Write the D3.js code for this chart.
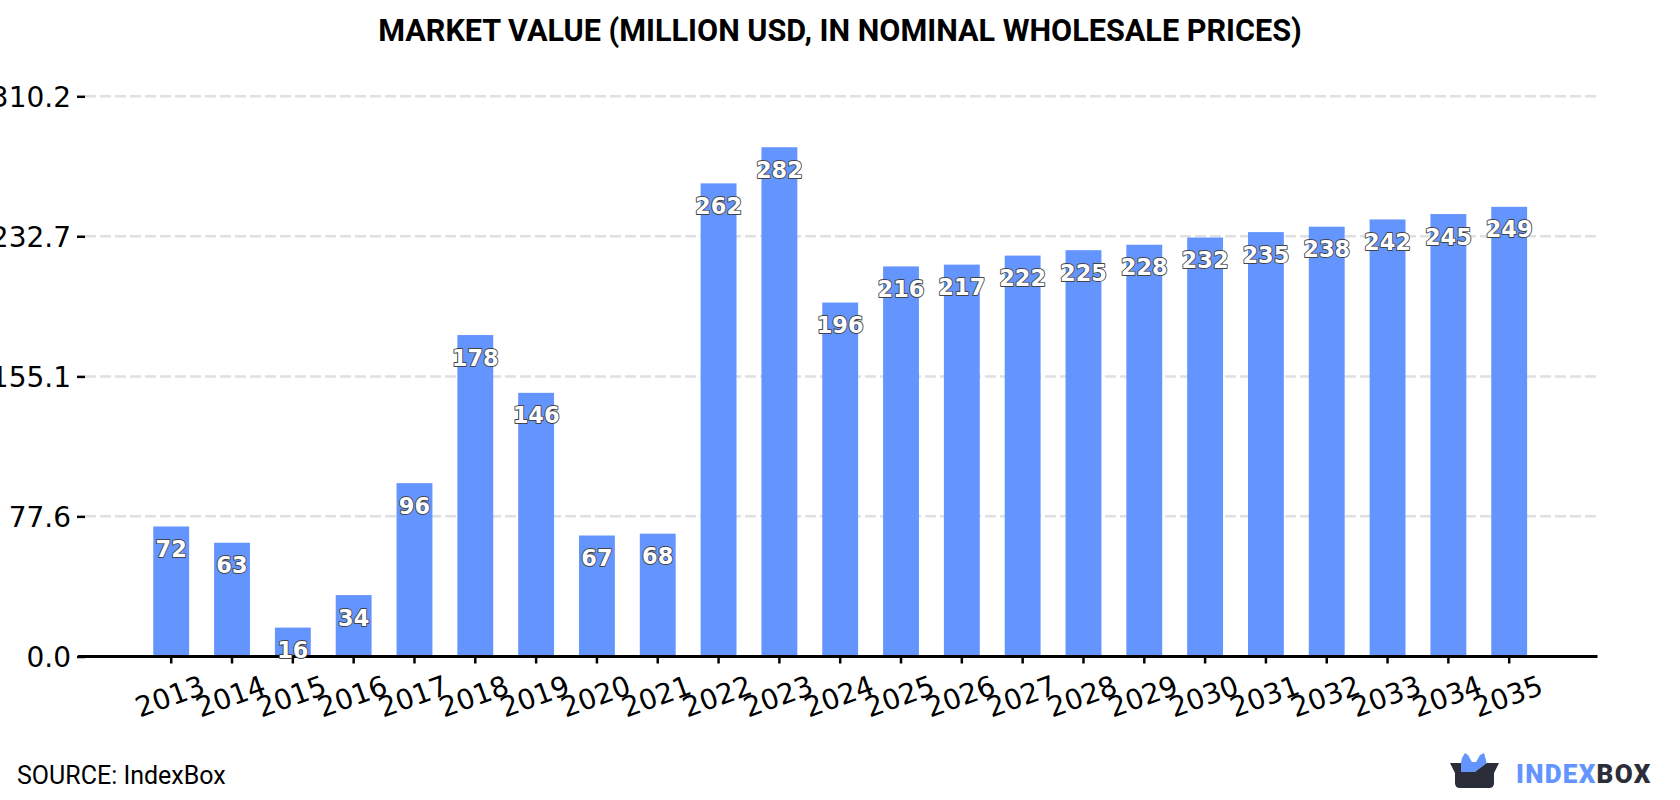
<!DOCTYPE html>
<html>
<head>
<meta charset="utf-8">
<script src="https://cdn.jsdelivr.net/npm/d3@7/dist/d3.min.js"></script>
<style>
html, body { margin: 0; padding: 0; background: #fff; }
svg { display: block; }
</style>
</head>
<body>
<svg id="chart" width="1680" height="800"></svg>
<script>
const years = ["2013","2014","2015","2016","2017","2018","2019","2020","2021","2022","2023","2024","2025","2026","2027","2028","2029","2030","2031","2032","2033","2034","2035"];
const values = [72,63,16,34,96,178,146,67,68,262,282,196,216,217,222,225,228,232,235,238,242,245,249];
const yTicks = [0, 77.6, 155.1, 232.7, 310.2];
const titleText = "MARKET VALUE (MILLION USD, IN NOMINAL WHOLESALE PRICES)";
const sourceText = "SOURCE: IndexBox";
const barColor = "#6495ff";

const svg = d3.select("#chart");

const x = d3.scaleBand().domain(years).range([140.8, 1539.6]).paddingInner(0.41).paddingOuter(0.205);
const y = d3.scaleLinear().domain([0, 310.2]).range([656.5, 96.3]);

svg.append("text").attr("x", 840).attr("y", 41).attr("text-anchor", "middle")
  .attr("font-family", "Roboto").attr("font-weight", 700).attr("font-size", 30.6)
  .attr("fill", "#000").text(titleText);

// Dashed grid lines sit behind the bars
svg.append("g").selectAll("line").data(yTicks.slice(1)).join("line")
  .attr("x1", 85).attr("x2", 1597)
  .attr("y1", d => y(d)).attr("y2", d => y(d))
  .attr("stroke", "#e0e0e0").attr("stroke-width", 2.5).attr("stroke-dasharray", "11,4");

svg.append("g").selectAll("rect").data(values).join("rect")
  .attr("x", (d, i) => x(years[i]))
  .attr("width", x.bandwidth())
  .attr("y", d => y(d))
  .attr("height", d => y(0) - y(d))
  .attr("fill", barColor);

const yAxis = d3.axisLeft(y).tickValues(yTicks).tickFormat(d3.format(".1f")).tickSize(8).tickPadding(6);
const gy = svg.append("g").attr("transform", "translate(85,0)").call(yAxis);
gy.select(".domain").remove();
gy.selectAll(".tick line").attr("stroke", "#000").attr("stroke-width", 2.5);
gy.selectAll(".tick text").attr("font-family", "DejaVu Sans").attr("font-size", 28).attr("fill", "#000").attr("dy", "0.36em");

const xAxis = d3.axisBottom(x).tickSize(7).tickSizeOuter(0);
const gx = svg.append("g").attr("transform", `translate(0,${y(0)})`).call(xAxis);
gx.select(".domain").remove();
gx.selectAll(".tick line").attr("stroke", "#000").attr("stroke-width", 2.5);
gx.selectAll(".tick text")
  .attr("font-family", "DejaVu Sans").attr("font-size", 28).attr("fill", "#000")
  .attr("text-anchor", "middle").attr("y", 0).attr("dy", 0)
  .attr("transform", "translate(2,49) rotate(-20)");

svg.append("line").attr("x1", 78).attr("x2", 1597.5)
  .attr("y1", y(0)).attr("y2", y(0)).attr("stroke", "#000").attr("stroke-width", 3);

// Value labels: white digits with a thin dark outline
svg.append("g").selectAll("text").data(values).join("text")
  .attr("x", (d, i) => x(years[i]) + x.bandwidth() / 2)
  .attr("y", d => y(d) + 22.5)
  .attr("dy", "0.36em")
  .attr("text-anchor", "middle")
  .attr("font-family", "DejaVu Sans").attr("font-weight", 700).attr("font-size", 22.5)
  .attr("fill", "#fff").attr("stroke", "#444").attr("stroke-width", 1.8)
  .attr("paint-order", "stroke").attr("stroke-linejoin", "round")
  .text(d => d);

svg.append("text").attr("x", 17).attr("y", 784)
  .attr("font-family", "Roboto").attr("font-size", 25).attr("fill", "#000").text(sourceText);

// Logo: open box with blue flaps, followed by the wordmark
const logo = svg.append("g");
logo.append("path").attr("fill", barColor)
  .attr("d", "M1461 762 L1462 758 L1465 753 L1468 755 L1472 762 L1476 762 L1480 755 L1484 753 L1486 760 L1487 766 L1475 772 L1461 772 Z");
logo.append("path").attr("fill", "#2b2d38")
  .attr("d", "M1450 763 L1461 763 L1461 772 L1475 772 L1487 763 L1499 763 L1494 773 L1494 783 Q1494 788 1489 788 L1460 788 Q1455 788 1455 783 L1455 773 Z");
const mark = svg.append("text").attr("x", 1516).attr("y", 783)
  .attr("font-family", "Roboto").attr("font-weight", 900).attr("font-size", 26).attr("letter-spacing", 1.3);
mark.append("tspan").attr("fill", barColor).text("INDEX");
mark.append("tspan").attr("fill", "#2b2d38").text("BOX");
</script>
</body>
</html>
